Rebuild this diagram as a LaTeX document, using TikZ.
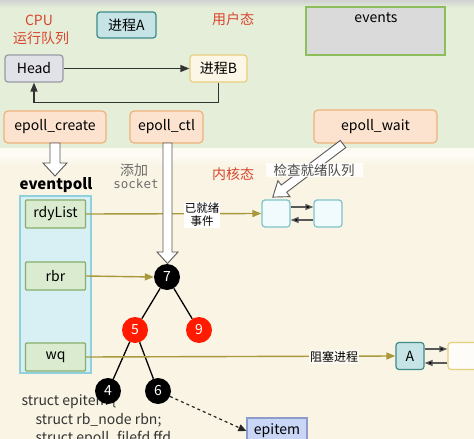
\documentclass[tikz,border=0pt]{standalone}
\usepackage{fontspec}
\setmainfont{Noto Sans CJK SC}
\newfontfamily\monofont{DejaVu Sans Mono}
\usetikzlibrary{arrows.meta}
\definecolor{bggreen}{HTML}{E4EED9}
\definecolor{bgcream}{HTML}{F9F4E4}
\definecolor{redtxt}{HTML}{D9452E}
\definecolor{olive}{HTML}{A89A3C}
\definecolor{tealfill}{HTML}{C6E3E6}
\definecolor{tealdraw}{HTML}{3F8A8A}
\definecolor{peachfill}{HTML}{FBE3CF}
\definecolor{peachdraw}{HTML}{EFB27C}
\definecolor{grnfill}{HTML}{DAEBCF}
\definecolor{grndraw}{HTML}{86AE6C}
\definecolor{cyanfill}{HTML}{D8EFF3}
\definecolor{cyandraw}{HTML}{8FD0DC}
\definecolor{qfill}{HTML}{F1FAFC}
\definecolor{qdraw}{HTML}{7CC4CC}
\definecolor{creamfill}{HTML}{FBF6E6}
\definecolor{yeldraw}{HTML}{E6D07E}
\definecolor{headfill}{HTML}{E1E1E8}
\definecolor{headdraw}{HTML}{9A9AA6}
\definecolor{evfill}{HTML}{DADADA}
\definecolor{evdraw}{HTML}{8CBF5C}
\definecolor{epfill}{HTML}{C9D6F5}
\definecolor{epdraw}{HTML}{8E9CCC}
\definecolor{nodered}{HTML}{FF1A00}
\definecolor{graytxt}{HTML}{6E6E6E}
\begin{document}
\begin{tikzpicture}[x=1pt,y=-1pt,
  font=\fontsize{14}{16}\selectfont,
  boxbase/.style={rectangle,rounded corners=3pt,line width=1.2pt,inner sep=0pt},
  procbox/.style={boxbase,fill=tealfill,draw=tealdraw},
  callbox/.style={boxbase,fill=peachfill,draw=peachdraw,rounded corners=4pt},
  fieldbox/.style={boxbase,fill=grnfill,draw=grndraw,rounded corners=1pt,minimum width=60,minimum height=28},
  qbox/.style={boxbase,fill=qfill,draw=qdraw,minimum width=28,minimum height=27},
  rbnode/.style={circle,minimum size=26,inner sep=0pt,text=white},
  redlbl/.style={text=redtxt},
  olivearr/.style={draw=olive,line width=1.4pt,-{Triangle[length=9pt,width=7pt]}},
  darkarr/.style={draw=black!80,line width=1.3pt,-{Triangle[length=9pt,width=7pt]}},
  qarr/.style={draw=black!65,line width=1.2pt,-{Triangle[length=8pt,width=6pt,fill=black]}},
  hollow/.style={fill=white,draw=black!65,line width=0.9pt},
  treeedge/.style={draw=black,line width=1.3pt}
]
\useasboundingbox (0,0) rectangle (474,439);
% backgrounds
\fill[bggreen] (0,0) rectangle (474,148);
\shade[top color=black!18,bottom color=bggreen] (0,0) rectangle (474,8);
\fill[white!60!bgcream] (0,148) rectangle (474,156);
\shade[top color=white!60!bgcream,bottom color=bgcream] (0,156) rectangle (474,166);
\fill[bgcream] (0,166) rectangle (474,439);

% user space
\node[redlbl] (cpu) at (39,20) {CPU};
\node[redlbl] (runq) at (41,38) {运行队列};
\node[procbox,minimum width=59,minimum height=26] (procA) at (126.5,25) {进程A};
\node[redlbl] (usr) at (233,19) {用户态};
\node[boxbase,rounded corners=0pt,fill=evfill,draw=evdraw,minimum width=139,minimum height=48] (events) at (375.5,31) {};
\node (eventsT) at (376,18) {events};
\node[boxbase,fill=headfill,draw=headdraw,minimum width=58,minimum height=27] (head) at (34,68.5) {Head};
\node[boxbase,fill=creamfill,draw=yeldraw,minimum width=57,minimum height=27] (procB) at (218.5,68.5) {进程B};
\draw[darkarr] (head.east) -- (procB.west);
\draw[darkarr] (procB.south) -- ++(0,20) -| (head.south);

\node[callbox,minimum width=102,minimum height=32] (ecreate) at (55,127) {epoll\_create};
\node[callbox,minimum width=73,minimum height=32] (ectl) at (166.5,127) {epoll\_ctl};
\node[callbox,minimum width=123,minimum height=33] (ewait) at (375.5,126.5) {epoll\_wait};

% kernel space labels
\node[font=\fontsize{15}{17}\selectfont\bfseries] (evp) at (56,185) {eventpoll};
\node[text=graytxt] (addl) at (134,170) {添加};
\node[text=graytxt,font=\monofont\fontsize{12.5}{14}\selectfont] (sock) at (136,184) {socket};
\node[redlbl] (kern) at (233,174) {内核态};

% struct text (drawn first, tree nodes lie over it)
\node[anchor=west,text=black!80] (s1) at (18,402) {struct epitem \{};
\node[anchor=west,text=black!80] (s2) at (32,420) {struct rb\_node rbn;};
\node[anchor=west,text=black!80] (s3) at (32,438) {struct epoll\_filefd ffd};

% eventpoll container
\node[boxbase,rounded corners=0pt,fill=cyanfill,draw=cyandraw,line width=1.6pt,minimum width=71,minimum height=177] (cont) at (55.5,284.5) {};
\node[fieldbox] (rdy) at (55.5,214) {rdyList};
\node[fieldbox] (rbr) at (55.5,276) {rbr};
\node[fieldbox] (wq) at (55.5,357) {wq};

% ready queue
\node[qbox] (q1) at (276,213.5) {};
\node[qbox] (q2) at (328,213.5) {};
\draw[qarr] ([yshift=6.5pt]q1.east) -- ([yshift=6.5pt]q2.west);
\draw[qarr] ([yshift=-6.5pt]q2.west) -- ([yshift=-6.5pt]q1.east);

% red-black tree
\node[rbnode,fill=black] (n7) at (167,277) {7};
\node[rbnode,fill=nodered] (n5) at (135,330) {5};
\node[rbnode,fill=nodered] (n9) at (199,330) {9};
\node[rbnode,fill=black] (n4) at (108,391) {4};
\node[rbnode,fill=black] (n6) at (158,391) {6};
\draw[treeedge] (n7) -- (n5);
\draw[treeedge] (n7) -- (n9);
\draw[treeedge] (n5) -- (n4);
\draw[treeedge] (n5) -- (n6);

% wait queue
\node[procbox,minimum width=28,minimum height=27] (qa) at (410,356) {A};
\node[boxbase,fill=white!70!creamfill,draw=yeldraw,minimum width=44,minimum height=27] (qr) at (470,356) {};
\draw[qarr] ([yshift=7pt]qa.east) -- ([yshift=7pt]qr.west);
\draw[qarr] ([yshift=-7pt]qr.west) -- ([yshift=-7pt]qa.east);

% olive connectors
\draw[olivearr] (rdy.east) -- (q1.west);
\draw[olivearr] (rbr.east) -- (n7.west);
\draw[olivearr] (wq.east) -- (qa.west);
\node[fill=white,align=center,inner sep=1pt,font=\fontsize{11.5}{13}\selectfont] (rdylbl) at (202,215) {已就绪\\事件};
\node[fill=white!50!bgcream,inner sep=1pt,font=\fontsize{12}{14}\selectfont] (blk) at (334,357) {阻塞进程};

% hollow arrows
\draw[hollow] (50,143) -- (60,143) -- (60,163) -- (67,163) -- (55,176) -- (43,163) -- (50,163) -- cycle;
\draw[hollow] (163,143) -- (172,143) -- (172,252) -- (178,252) -- (167.5,263.5) -- (157,252) -- (163,252) -- cycle;
\begin{scope}[shift={(343,144)},rotate=217.1]
\draw[hollow] (0,-4.5) -- (74,-4.5) -- (74,-10) -- (88,0) -- (74,10) -- (74,4.5) -- (0,4.5) -- cycle;
\end{scope}
\node[fill=white,fill opacity=0.85,text opacity=1,text=black!70,inner xsep=8pt,inner ysep=1pt,font=\fontsize{13.5}{15}\selectfont] (chk) at (314,170) {检查就绪队列};

% epitem
\node[boxbase,rounded corners=0pt,fill=epfill,draw=epdraw,minimum width=60,minimum height=26] (epitem) at (277,431) {epitem};
\draw[draw=black!85,line width=1.2pt,dashed,-{Triangle[length=8pt,width=7pt]}] (n6) -- (epitem.west);
\end{tikzpicture}
\end{document}
